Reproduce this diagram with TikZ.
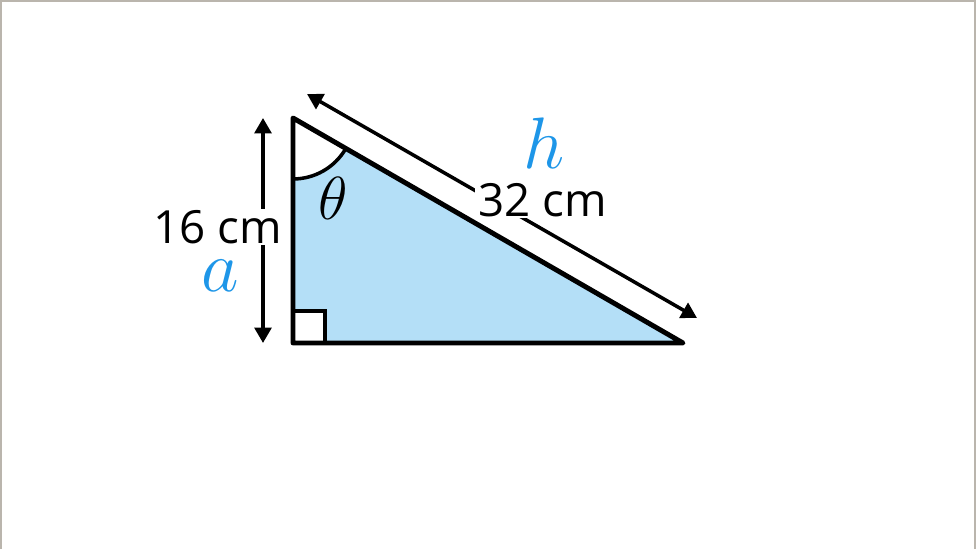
\documentclass[tikz,border=0pt]{standalone}
\usepackage{amsmath}
\usepackage{fontspec}
\setmainfont{Open Sans}
\usepackage{xcolor}
\usetikzlibrary{arrows.meta}

\definecolor{triblue}{RGB}{180,223,247}
\definecolor{letterblue}{RGB}{30,150,232}
\definecolor{framegray}{RGB}{186,181,173}

\begin{document}
\begin{tikzpicture}[x=0.01cm,y=0.01cm,
    edge/.style={line width=1.4pt,line join=round},
    measure/.style={line width=1pt,{Triangle[length=4.4pt,width=4.8pt]}-{Triangle[length=4.4pt,width=4.8pt]}},
    size/.style={fill=white,inner xsep=1pt,inner ysep=0.5pt,text depth=0pt,font=\fontsize{13}{15}\selectfont},
    letter/.style={text=letterblue,inner sep=0pt,font=\fontsize{20}{24}\selectfont}]
  \useasboundingbox (0,0) rectangle (976,549);
  \draw[framegray,line width=0.6pt] (1,0) -- (1,548) -- (975,548) -- (975,0);

  % corners of the triangle
  \coordinate (R) at (293,206);
  \coordinate (T) at (293,431);
  \coordinate (S) at (683,206);
  \fill[triblue] (T) -- (S) -- (R) -- cycle;
  \fill[white] (T) -- ++(-90:61) arc[start angle=-90,end angle=-30,radius=61] -- cycle;
  \fill[white] (R) rectangle ++(32,32);
  \draw[line width=1pt] (T) ++(-90:61) arc[start angle=-90,end angle=-30,radius=61];
  \draw[line width=1pt] (R) ++(0,32) -| ++(32,-32);
  \draw[edge] (T) -- (S) -- (R) -- cycle;

  % measuring arrows
  \coordinate (up) at (263,431);
  \coordinate (down) at (263,206);
  \coordinate (hl) at (307,455);
  \coordinate (hr) at (697,231);
  \draw[measure] (up) -- (down);
  \draw[measure] (hl) -- (hr);

  \node[size] (sideA) at (218,322) {16 cm};
  \node[letter] (nameA) at (220,273) {$a$};
  \node[size] (sideH) at (543,349) {32 cm};
  \node[letter] (nameH) at (544,406) {$h$};
  \node[font=\fontsize{16}{19}\selectfont] (angle) at (333,351) {$\theta$};
\end{tikzpicture}
\end{document}
